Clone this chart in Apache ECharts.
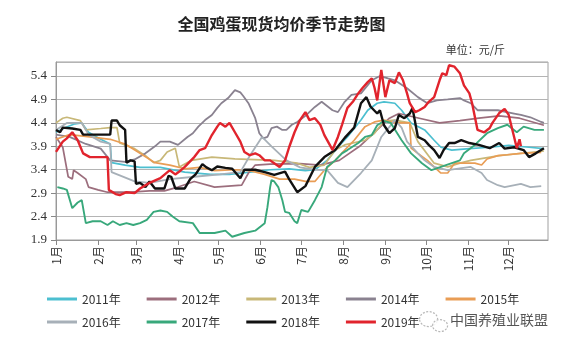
<!DOCTYPE html>
<html>
<head>
<meta charset="utf-8">
<script src="https://cdn.jsdelivr.net/npm/echarts@6/dist/echarts.min.js"></script>
<style>
html,body{margin:0;padding:0;background:#fff;}
#chart{width:563px;height:350px;}
</style>
</head>
<body>
<div id="chart"></div>
<script>
// Day-of-year where each month begins, and its label
const monthStarts = [0, 31, 59, 90, 120, 151, 181, 212, 243, 273, 304, 334];
const monthLabels = ['1月','2月','3月','4月','5月','6月','7月','8月','9月','10月','11月','12月'];

// Price axis (元/斤)
const priceMin = 1.9;
const priceMax = 5.7;
const priceStep = 0.5;

const seriesNames = ['2011年','2012年','2013年','2014年','2015年','2016年','2017年','2018年','2019年'];

// Each series: [day of year, average spot price]
const p2011 = [[0,4.2],[7,4.3],[14,4.38],[19,4.4],[24,4.2],[33,4.05],[40,3.95],[41,3.55],[51,3.5],[62,3.45],[77,3.45],[95,3.35],[114,3.3],[128,3.3],[143,3.35],[158,3.4],[172,3.42],[184,3.38],[191,3.4],[200,3.6],[208,3.88],[215,4.1],[225,4.46],[230,4.67],[237,4.82],[242,4.85],[250,4.82],[255,4.67],[262,4.4],[272,4.25],[279,4.03],[284,3.88],[292,3.82],[305,3.85],[320,3.88],[334,3.92],[349,3.88],[360,3.85]];

const p2012 = [[0,4.1],[5,3.88],[9,3.25],[12,3.2],[13,3.39],[16,3.33],[22,3.2],[24,3.03],[31,2.97],[38,2.92],[55,2.92],[69,2.95],[80,2.95],[90,3.03],[102,3.15],[117,3.03],[137,3.07],[142,3.33],[147,3.5],[158,3.52],[180,3.53],[195,3.5],[209,3.6],[224,3.9],[235,4.2],[246,4.5],[253,4.6],[268,4.5],[283,4.4],[298,4.45],[312,4.5],[327,4.55],[342,4.5],[360,4.35]];

const p2013 = [[0,4.4],[5,4.5],[8,4.52],[18,4.45],[22,4.25],[33,4.28],[40,4.3],[45,4.3],[47,3.97],[58,3.85],[66,3.7],[72,3.55],[77,3.6],[82,3.78],[88,3.86],[91,3.46],[100,3.6],[115,3.67],[132,3.63],[161,3.6],[178,3.54],[187,3.45],[198,3.5],[206,3.82],[213,3.93],[228,4.03],[235,4.18],[242,4.44],[250,4.46],[261,4.4],[267,4.0],[279,3.54],[289,3.46],[298,3.54],[306,3.6],[327,3.7],[360,3.8]];

const p2014 = [[0,4.15],[10,4.1],[22,3.95],[33,3.85],[40,3.6],[51,3.57],[58,3.62],[66,3.75],[73,3.9],[77,4.0],[84,4.0],[90,3.93],[97,4.1],[101,4.18],[105,4.32],[110,4.46],[115,4.57],[119,4.72],[122,4.82],[127,4.93],[132,5.1],[136,5.05],[138,4.98],[142,4.82],[147,4.5],[150,4.18],[153,4.07],[156,4.1],[159,4.29],[163,4.32],[167,4.25],[170,4.25],[174,4.36],[178,4.42],[184,4.55],[191,4.74],[196,4.85],[204,4.67],[208,4.63],[213,4.85],[218,5.0],[225,5.03],[233,5.31],[239,5.4],[245,5.35],[250,5.31],[259,5.14],[267,4.95],[274,4.82],[281,4.88],[289,4.9],[298,4.93],[301,4.88],[306,4.82],[311,4.67],[318,4.67],[326,4.67],[338,4.6],[343,4.57],[350,4.52],[358,4.42],[360,4.4]];

const p2015 = [[0,4.05],[10,4.15],[25,4.1],[40,4.05],[51,3.95],[62,3.75],[73,3.55],[84,3.5],[95,3.42],[106,3.45],[117,3.38],[132,3.4],[143,3.38],[154,3.3],[165,3.2],[176,3.2],[184,3.15],[191,3.15],[198,3.39],[206,3.6],[213,3.82],[220,4.03],[228,4.32],[235,4.42],[242,4.46],[250,4.4],[261,4.4],[262,3.86],[267,3.75],[274,3.6],[279,3.46],[284,3.33],[289,3.33],[294,3.54],[309,3.54],[314,3.5],[318,3.63],[326,3.7],[333,3.72],[343,3.75],[358,3.77]];

const p2016 = [[0,4.25],[8,4.4],[19,4.4],[24,4.15],[33,4.0],[40,3.95],[41,3.35],[47,3.28],[58,3.15],[69,3.12],[84,3.2],[102,3.25],[121,3.3],[136,3.35],[143,3.7],[152,4.1],[159,3.9],[170,3.6],[180,3.45],[191,3.4],[200,3.39],[208,3.12],[215,3.03],[225,3.33],[233,3.6],[240,4.1],[250,4.46],[255,4.3],[259,4.0],[267,3.75],[272,3.6],[279,3.46],[289,3.39],[298,3.43],[306,3.46],[314,3.33],[318,3.18],[326,3.07],[331,3.03],[343,3.1],[350,3.03],[358,3.05]];

const p2017 = [[1,3.03],[5,3.0],[8,2.97],[12,2.58],[16,2.7],[19,2.75],[22,2.26],[27,2.3],[33,2.3],[38,2.22],[42,2.3],[47,2.22],[52,2.26],[57,2.22],[62,2.26],[67,2.33],[72,2.5],[77,2.53],[82,2.5],[86,2.4],[91,2.3],[101,2.26],[106,2.05],[117,2.05],[125,2.1],[130,1.97],[139,2.05],[147,2.1],[154,2.26],[156,2.6],[158,3.03],[159,3.18],[161,3.15],[164,3.03],[167,2.75],[169,2.5],[172,2.48],[176,2.3],[178,2.26],[181,2.54],[186,2.5],[191,2.75],[196,3.03],[200,3.46],[206,3.6],[211,3.75],[215,3.82],[223,3.97],[228,4.1],[233,4.14],[237,4.35],[242,4.44],[247,4.4],[255,4.03],[262,3.75],[270,3.54],[277,3.39],[284,3.46],[292,3.54],[298,3.6],[301,3.75],[309,3.93],[318,4.18],[326,4.29],[333,4.36],[340,4.2],[345,4.32],[353,4.25],[360,4.25]];

const p2018 = [[0,4.25],[3,4.2],[5,4.3],[12,4.28],[18,4.25],[20,4.15],[40,4.15],[41,4.45],[45,4.45],[47,4.35],[51,4.25],[52,3.55],[55,3.6],[58,3.58],[59,3.1],[62,3.12],[66,3.03],[69,3.15],[73,3.0],[80,3.0],[83,3.27],[85,3.25],[88,3.0],[95,3.0],[99,3.2],[103,3.3],[108,3.52],[111,3.45],[115,3.39],[119,3.47],[125,3.44],[130,3.42],[136,3.22],[139,3.4],[147,3.4],[154,3.35],[161,3.29],[169,3.36],[172,3.2],[178,2.92],[184,3.05],[191,3.46],[198,3.67],[206,3.82],[213,4.08],[220,4.3],[225,4.82],[229,4.95],[232,4.75],[237,4.6],[239,4.67],[242,4.35],[246,4.18],[250,4.29],[253,4.57],[257,4.5],[261,4.6],[263,4.72],[267,4.1],[272,4.03],[275,3.93],[279,3.82],[283,3.65],[286,3.82],[290,3.97],[294,3.97],[299,4.03],[305,3.97],[312,3.93],[320,3.86],[327,3.97],[331,3.85],[338,3.88],[345,3.82],[349,3.67],[354,3.75],[360,3.86]];

const p2019 = [[0,3.78],[5,4.0],[8,4.07],[12,4.2],[16,4.03],[20,3.75],[25,3.67],[38,3.67],[39,2.97],[44,2.88],[47,2.86],[52,2.92],[58,2.9],[62,3.0],[69,3.12],[77,3.22],[84,3.39],[88,3.3],[91,3.36],[95,3.46],[102,3.67],[106,3.82],[110,3.86],[115,4.14],[119,4.32],[121,4.4],[125,4.32],[128,4.4],[132,4.2],[136,4.0],[139,3.78],[143,3.71],[147,3.75],[150,3.71],[154,3.6],[158,3.6],[161,3.54],[165,3.46],[169,3.6],[172,3.88],[176,4.2],[180,4.46],[184,4.63],[187,4.46],[191,4.5],[195,4.36],[198,4.14],[202,3.93],[204,3.82],[208,4.1],[211,4.36],[215,4.72],[219,4.85],[223,5.03],[226,5.14],[230,5.27],[233,5.35],[235,5.15],[237,4.88],[240,5.53],[243,4.95],[246,5.31],[250,5.25],[253,5.48],[256,5.31],[259,5.03],[261,4.82],[265,4.63],[268,4.67],[272,4.74],[275,4.85],[279,4.95],[283,5.31],[285,5.46],[288,5.42],[290,5.63],[294,5.6],[298,5.46],[301,5.2],[305,5.03],[307,4.82],[311,4.25],[316,4.2],[320,4.29],[322,4.4],[327,4.61],[331,4.7],[334,4.57],[338,4.1],[340,3.86],[342,4.05],[343,3.9]];

const seriesData = [p2011, p2012, p2013, p2014, p2015, p2016, p2017, p2018, p2019];
const seriesColors = ['#4cbfd0', '#9c6e7d', '#c8b878', '#8a8290', '#e99d55', '#a7b0b8', '#38a87b', '#111111', '#e1242d'];
const seriesWidths = [1.7, 1.7, 1.7, 1.8, 1.7, 1.8, 1.9, 2.4, 2.4];

const chart = echarts.init(document.getElementById('chart'), null, {renderer: 'canvas'});

const cjk = '"Noto Sans CJK SC", sans-serif';

const series = seriesNames.map((name, i) => ({
  name: name,
  type: 'line',
  data: seriesData[i],
  symbol: 'none',
  showSymbol: false,
  smooth: false,
  z: 2 + i,
  lineStyle: {color: seriesColors[i], width: seriesWidths[i]},
  itemStyle: {color: seriesColors[i]},
  emphasis: {disabled: true}
}));

const legendBase = {
  orient: 'horizontal',
  left: 42,
  itemWidth: 30,
  itemHeight: 3,
  itemGap: 26,
  icon: 'rect',
  textStyle: {fontFamily: cjk, fontSize: 12, color: '#333', width: 46}
};

chart.setOption({
  animation: false,
  backgroundColor: '#fff',
  title: {
    text: '全国鸡蛋现货均价季节走势图',
    left: 'center',
    top: 11,
    textStyle: {fontFamily: cjk, fontSize: 16, fontWeight: 'bold', color: '#222'}
  },
  grid: {
    left: 56, right: 15, top: 62, bottom: 110,
    show: true, borderColor: '#a0a0a0', borderWidth: 1, backgroundColor: 'transparent'
  },
  legend: [
    Object.assign({}, legendBase, {top: 288, data: seriesNames.slice(0, 5)}),
    Object.assign({}, legendBase, {top: 311, data: seriesNames.slice(5)})
  ],
  xAxis: {
    type: 'value',
    min: 0,
    max: 363,
    axisLine: {show: true, lineStyle: {color: '#999', width: 1}},
    axisTick: {show: true, customValues: monthStarts, length: 5, lineStyle: {color: '#888'}},
    axisLabel: {
      customValues: monthStarts,
      rotate: 90,
      margin: 6,
      fontFamily: cjk,
      fontSize: 12,
      color: '#333',
      formatter: v => monthLabels[monthStarts.indexOf(v)] || ''
    },
    splitLine: {show: false}
  },
  yAxis: {
    type: 'value',
    min: priceMin,
    max: priceMax,
    interval: priceStep,
    axisLine: {show: true, lineStyle: {color: '#999'}},
    axisTick: {show: true, length: 5, lineStyle: {color: '#888'}},
    axisLabel: {
      showMaxLabel: false,
      margin: 9,
      fontFamily: '"Liberation Serif", serif',
      fontSize: 13,
      color: '#333',
      formatter: v => v.toFixed(1)
    },
    splitLine: {show: true, lineStyle: {color: '#b4b4b4', width: 1}}
  },
  graphic: [
    {
      type: 'text', right: 58, top: 44,
      style: {text: '单位：元/斤', font: '11px "Noto Sans CJK SC"', fill: '#333'}
    },
    {
      type: 'ellipse', left: 419, top: 311,
      shape: {cx: 0, cy: 0, rx: 9, ry: 7.5},
      style: {fill: 'rgba(255,255,255,0.85)', stroke: '#b8b8b8', lineWidth: 1.2, lineDash: [2, 1.5]},
      z: 50
    },
    {
      type: 'ellipse', left: 432, top: 319,
      shape: {cx: 0, cy: 0, rx: 7.5, ry: 6},
      style: {fill: 'rgba(255,255,255,0.85)', stroke: '#b8b8b8', lineWidth: 1.2, lineDash: [2, 1.5]},
      z: 51
    },
    {
      type: 'text', left: 450, top: 313,
      style: {text: '中国养殖业联盟', font: '14px "Noto Sans CJK SC"', fill: '#555'},
      z: 52
    }
  ],
  series: series
});
</script>
</body>
</html>
